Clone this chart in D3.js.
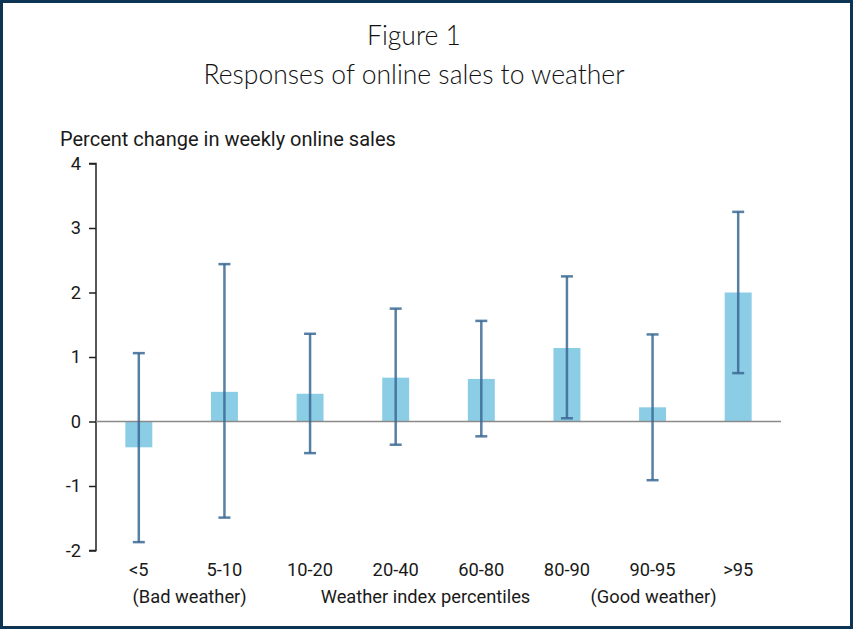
<!DOCTYPE html>
<html>
<head>
<meta charset="utf-8">
<script src="https://cdn.jsdelivr.net/npm/d3@7"></script>
<style>
  body { margin: 0; background: #fff; }
  svg { display: block; }
  .tick text { font-family: Roboto, sans-serif; font-size: 18.3px; fill: #1a1a1a; }
</style>
</head>
<body>
<svg id="chart"></svg>
<script>
// categories and values
var categories = ["<5", "5-10", "10-20", "20-40", "60-80", "80-90", "90-95", ">95"];
var values = [-0.40, 0.46, 0.43, 0.68, 0.66, 1.14, 0.22, 2.00];
var errLow = [-1.87, -1.49, -0.49, -0.36, -0.23, 0.05, -0.91, 0.75];
var errHigh = [1.06, 2.44, 1.36, 1.75, 1.56, 2.25, 1.35, 3.25];
var yTicks = [-2, -1, 0, 1, 2, 3, 4];

var width = 853;
var height = 629;

var svg = d3.select("#chart").attr("width", width).attr("height", height);

// frame
svg.append("rect")
  .attr("x", 1.5).attr("y", 1.5)
  .attr("width", width - 3).attr("height", height - 3)
  .attr("fill", "#fff")
  .attr("stroke", "#0e3453")
  .attr("stroke-width", 3);

// titles
svg.append("text")
  .attr("x", 414).attr("y", 45)
  .attr("text-anchor", "middle")
  .style("font-family", "Lato, sans-serif")
  .style("font-weight", 300)
  .style("font-size", "26.5px")
  .style("fill", "#111")
  .text("Figure 1");
svg.append("text")
  .attr("x", 414).attr("y", 84)
  .attr("text-anchor", "middle")
  .style("font-family", "Lato, sans-serif")
  .style("font-weight", 300)
  .style("font-size", "26.5px")
  .style("fill", "#111")
  .text("Responses of online sales to weather");

var x = d3.scaleBand().domain(categories).range([96, 781])
  .paddingInner(0.685).paddingOuter(0.3425);
var y = d3.scaleLinear().domain([-2, 4]).range([550.5, 163.5]);

// y axis label
svg.append("text")
  .attr("x", 60).attr("y", 146)
  .style("font-family", "Roboto, sans-serif")
  .style("font-size", "20px")
  .style("fill", "#1a1a1a")
  .text("Percent change in weekly online sales");

// y axis
var yAxis = svg.append("g")
  .attr("transform", "translate(96,0)")
  .call(d3.axisLeft(y).tickValues(yTicks).tickSize(7).tickPadding(8).tickFormat(d => String(d)));
yAxis.selectAll("path, line").attr("stroke", "#222").attr("stroke-width", 1.5);
yAxis.select(".domain").attr("d", "M-7," + y(4) + "H0V" + y(-2) + "H-7");

// bars
svg.selectAll(".bar")
  .data(values)
  .enter()
  .append("rect")
  .attr("class", "bar")
  .attr("x", (d, i) => x(categories[i]))
  .attr("width", x.bandwidth())
  .attr("y", d => y(Math.max(0, d)))
  .attr("height", d => Math.abs(y(d) - y(0)))
  .attr("fill", "#8ccde6");

// zero line
svg.append("line")
  .attr("x1", 96).attr("x2", 781)
  .attr("y1", y(0)).attr("y2", y(0))
  .attr("stroke", "#8a8a8a")
  .attr("stroke-width", 1.5);

// error bars
var eb = svg.selectAll(".err")
  .data(categories)
  .enter()
  .append("g")
  .attr("class", "err")
  .attr("stroke", "#3b6894")
  .attr("stroke-opacity", 0.85)
  .attr("stroke-width", 2.5);
var cx = d => x(d) + x.bandwidth() / 2;
eb.append("line")
  .attr("x1", cx).attr("x2", cx)
  .attr("y1", (d, i) => y(errLow[i]))
  .attr("y2", (d, i) => y(errHigh[i]));
eb.append("line")
  .attr("x1", d => cx(d) - 6).attr("x2", d => cx(d) + 6)
  .attr("y1", (d, i) => y(errLow[i])).attr("y2", (d, i) => y(errLow[i]));
eb.append("line")
  .attr("x1", d => cx(d) - 6).attr("x2", d => cx(d) + 6)
  .attr("y1", (d, i) => y(errHigh[i])).attr("y2", (d, i) => y(errHigh[i]));

// x category labels
var xAxis = svg.append("g")
  .attr("transform", "translate(0," + y(-2) + ")")
  .call(d3.axisBottom(x).tickSize(0).tickPadding(13));
xAxis.select(".domain").remove();

// second row labels
var sub = [
  { text: "(Bad weather)", x: (cx(categories[0]) + cx(categories[1])) / 2 + 8 },
  { text: "Weather index percentiles", x: (cx(categories[3]) + cx(categories[4])) / 2 - 13 },
  { text: "(Good weather)", x: cx(categories[6]) + 1 }
];
svg.selectAll(".sub")
  .data(sub)
  .enter()
  .append("text")
  .attr("x", d => d.x).attr("y", 603)
  .attr("text-anchor", "middle")
  .style("font-family", "Roboto, sans-serif")
  .style("font-size", "18.3px")
  .style("fill", "#1a1a1a")
  .text(d => d.text);
</script>
</body>
</html>
